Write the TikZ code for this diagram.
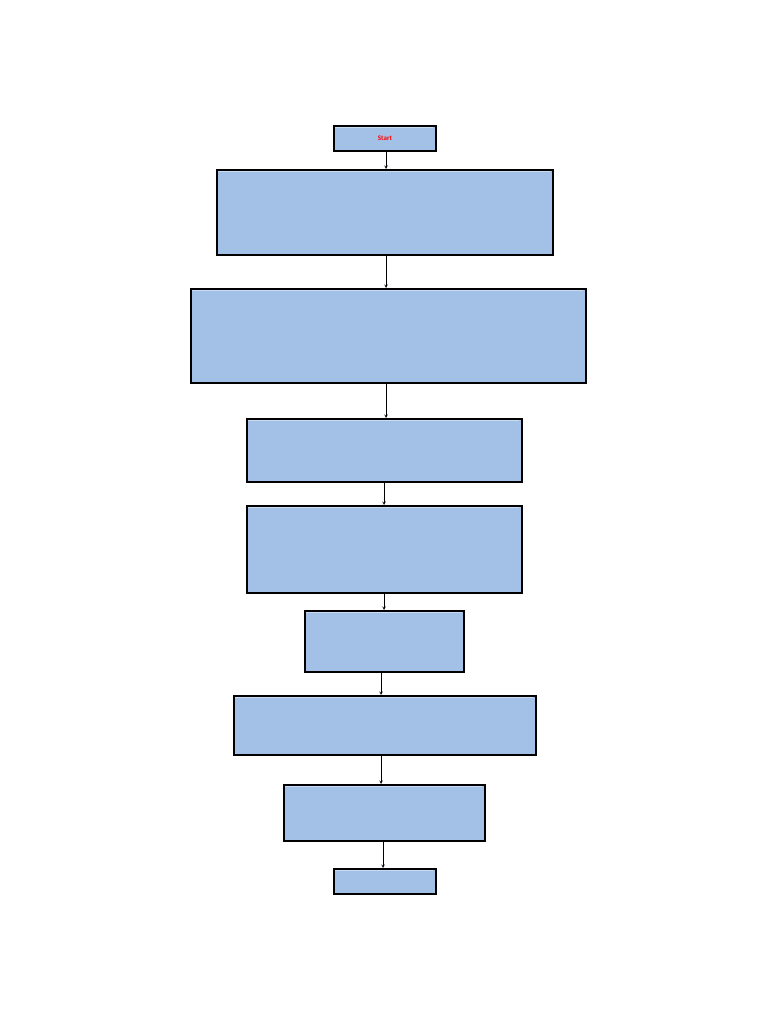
\documentclass[tikz,border=0pt]{standalone}
\usepackage{fontspec}
\setsansfont{Carlito}
\begin{document}
\begin{tikzpicture}[x=1pt,y=-1pt,
  box/.style={draw=black,line width=1.8pt,fill=boxblue,inner sep=0pt},
  arr/.style={->,>=stealth,line width=0.6pt}]
\definecolor{boxblue}{HTML}{A3C1E6}
\definecolor{boxhi}{HTML}{C9DBF2}
\useasboundingbox (0,0) rectangle (768,1024);
\newcommand{\bx}[5]{%
  \node[box,minimum width=#4-#2,minimum height=#5-#3,anchor=north west] (#1) at (#2,#3) {};
  \draw[boxhi,line width=1.5pt] (#2+2,#3+2.5) -- (#4-2,#3+2.5);}
\bx{b1}{333}{125}{435}{150}
\node[text=red,font=\sffamily\bfseries\scriptsize] at (b1.center) {Start};
\bx{b2}{216}{169}{552}{254}
\bx{b3}{190}{288}{585}{382}
\bx{b4}{246}{418}{521}{481}
\bx{b5}{246}{505}{521}{592}
\bx{b6}{304}{610}{463}{671}
\bx{b7}{233}{695}{535}{754}
\bx{b8}{283}{784}{484}{840}
\bx{b9}{333}{868}{435}{893}
\coordinate (c1) at (386,150); \draw[arr] (c1) -- (c1 |- b2.north);
\coordinate (c2) at (386,254); \draw[arr] (c2) -- (c2 |- b3.north);
\coordinate (c3) at (386,384); \draw[arr] (c3) -- (c3 |- b4.north);
\coordinate (c4) at (384,481); \draw[arr] (c4) -- (c4 |- b5.north);
\coordinate (c5) at (384,592); \draw[arr] (c5) -- (c5 |- b6.north);
\coordinate (c6) at (381,671); \draw[arr] (c6) -- (c6 |- b7.north);
\coordinate (c7) at (381,754); \draw[arr] (c7) -- (c7 |- b8.north);
\coordinate (c8) at (383,840); \draw[arr] (c8) -- (c8 |- b9.north);
\end{tikzpicture}
\end{document}
